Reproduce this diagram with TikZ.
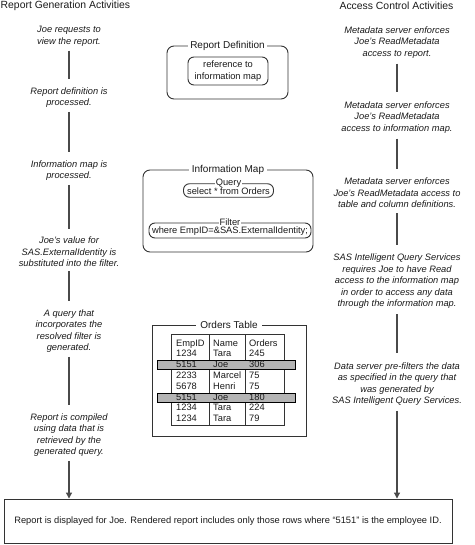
\documentclass[tikz,border=0pt]{standalone}
\usepackage{fontspec}
\setmainfont{Liberation Sans}
\usetikzlibrary{arrows.meta}
\definecolor{txt}{HTML}{1A1A1A}
\definecolor{linec}{HTML}{4A4A4A}
\definecolor{boxc}{HTML}{333333}
\definecolor{barc}{HTML}{B4B4B4}
\newcommand\bodyfont{\fontsize{9.3}{11.5}\selectfont}
\newcommand\headfont{\fontsize{10.4}{12}\selectfont}
\begin{document}
\begin{tikzpicture}[x=1pt,y=-1pt,
  every node/.style={text=txt},
  head/.style={font=\headfont, inner sep=0pt},
  acttxt/.style={font=\bodyfont\itshape, align=center, inner sep=1pt},
  lconn/.style={draw=linec, line width=1.1pt, shorten <=3pt, shorten >=7pt},
  rconn/.style={draw=linec, line width=1.1pt, shorten <=4pt, shorten >=8pt},
  arr/.style={draw=linec, line width=1.1pt, -{Triangle[width=6pt,length=6pt]}},
  outerbox/.style={draw=boxc, line width=0.9pt, rounded corners=7pt, inner sep=0pt},
  squarebox/.style={draw=boxc, line width=0.9pt, inner sep=0pt},
  innerbox/.style={draw=boxc, line width=0.9pt, rounded corners=6pt, inner sep=0pt, font=\bodyfont, align=center},
  boxtitle/.style={font=\fontsize{10}{12}\selectfont, fill=white, inner xsep=2pt, inner ysep=0.5pt},
  smalltitle/.style={font=\bodyfont, fill=white, inner xsep=1pt, inner ysep=0pt},
  body/.style={font=\bodyfont, inner sep=0pt},
  cell/.style={font=\bodyfont, inner sep=0pt, anchor=west, text height=6.7pt, text depth=0pt},
  bar/.style={draw=black, line width=0.7pt, fill=barc, inner sep=0pt, minimum width=138pt, minimum height=9pt}
]
\useasboundingbox (0,0) rectangle (474,545);

% Column headers
\node[head, anchor=west] (hl) at (0.5,6) {Report Generation Activities};
\node[head] (hr) at (396.5,6) {Access Control Activities};

% Left column
\node[acttxt] (l1) at (69,36.5) {Joe requests to\\view the report.};
\node[acttxt] (l2) at (69,97.5) {Report definition is\\processed.};
\node[acttxt] (l3) at (69,170.5) {Information map is\\processed.};
\node[acttxt] (l4) at (69,252) {Joe's value for\\SAS.ExternalIdentity is\\substituted into the filter.};
\node[acttxt] (l5) at (69,331) {A query that\\incorporates the\\resolved filter is\\generated.};
\node[acttxt] (l6) at (69,435) {Report is compiled\\using data that is\\retrieved by the\\generated query.};

% Right column
\node[acttxt] (r1) at (397,42.5) {Metadata server enforces\\Joe's ReadMetadata\\access to report.};
\node[acttxt] (r2) at (397,117.5) {Metadata server enforces\\Joe's ReadMetadata\\access to information map.};
\node[acttxt] (r3) at (397,193) {Metadata server enforces\\Joe's ReadMetadata access to\\table and column definitions.};
\node[acttxt] (r4) at (397,281.5) {SAS Intelligent Query Services\\requires Joe to have Read\\access to the information map\\in order to access any data\\through the information map.};
\node[acttxt] (r5) at (397,384) {Data server pre-filters the data\\as specified in the query that\\was generated by\\SAS Intelligent Query Services.};

% Bottom box
\node[draw=boxc, line width=0.9pt, minimum width=448pt, minimum height=44pt, inner sep=0pt, font=\bodyfont] (bot) at (228,521)
  {Report is displayed for Joe. Rendered report includes only those rows where “5151” is the employee ID.};

% Connectors
\draw[lconn] (l1) -- (l2);
\draw[lconn] (l2) -- (l3);
\draw[lconn] (l3) -- (l4);
\draw[lconn] (l4) -- (l5);
\draw[lconn] (l5) -- (l6);
\draw[arr, shorten <=3pt] (l6) -- (l6 |- bot.north);
\draw[rconn] (r1) -- (r2);
\draw[rconn] (r2) -- (r3);
\draw[rconn] (r3) -- (r4);
\draw[rconn] (r4) -- (r5);
\draw[arr, shorten <=4pt] (r5) -- (r5 |- bot.north);

% Report Definition
\node[outerbox, minimum width=121pt, minimum height=53pt] (rd) at (227.5,72.5) {};
\node[boxtitle] (rdt) at (rd.north) {Report Definition};
\node[innerbox, minimum width=80pt, minimum height=28pt] (rdi) at (228,71) {reference to\\information map};

% Information Map
\node[outerbox, minimum width=170pt, minimum height=82pt] (im) at (228,211) {};
\node[boxtitle, inner xsep=3pt] (imt) at (im.north) {Information Map};
\node[innerbox, minimum width=90pt, minimum height=13.5pt] (qb) at (228.5,190.5) {};
\node[smalltitle] (qbt) at (qb.north) {Query};
\node[body] (qtx) at (228.5,191.5) {select * from Orders};
\node[innerbox, minimum width=162pt, minimum height=15pt] (fb) at (230,230.5) {};
\node[smalltitle] (fbt) at (fb.north) {Filter};
\node[body] (ftx) at (230,231.5) {where EmpID=\&SAS.ExternalIdentity;};

% Orders Table
\node[squarebox, minimum width=154pt, minimum height=111pt] (ot) at (229,380.5) {};
\node[boxtitle, inner xsep=4pt] (ott) at (ot.north) {Orders Table};
\node[squarebox, minimum width=113pt, minimum height=91pt] (tbl) at (227.5,379.5) {};
\draw[boxc, line width=0.9pt] (209,334) -- (209,425);
\draw[boxc, line width=0.9pt] (245,334) -- (245,425);
\node[bar] (bar1) at (226,364.5) {};
\node[bar] (bar2) at (226,397.5) {};

\foreach \y/\a/\b/\c [count=\i] in {343/EmpID/Name/Orders, 353.5/1234/Tara/245, 364.5/5151/Joe/306,
  375/2233/Marcel/75, 386/5678/Henri/75, 397/5151/Joe/180, 407.5/1234/Tara/224, 418/1234/Tara/79}{
  \node[cell] (ca\i) at (176,\y) {\a};
  \node[cell] (cb\i) at (213,\y) {\b};
  \node[cell] (cc\i) at (249,\y) {\c};
}
\end{tikzpicture}
\end{document}
